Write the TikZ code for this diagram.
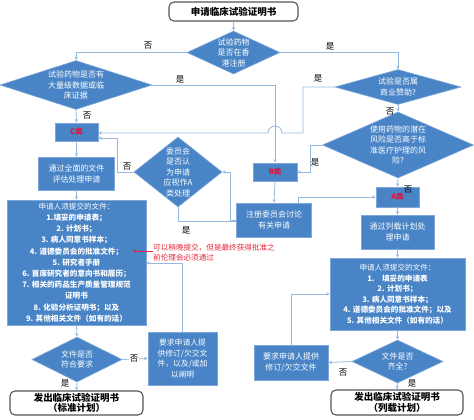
\documentclass[tikz,border=0pt]{standalone}
\usepackage{fontspec}
\setmainfont{Noto Sans CJK SC}
\usetikzlibrary{shapes.geometric,arrows.meta,backgrounds}
\definecolor{boxblue}{RGB}{72,132,198}
\definecolor{boxedge}{RGB}{125,168,216}
\definecolor{linec}{RGB}{150,185,225}
\definecolor{catred}{RGB}{225,20,60}
\definecolor{termedge}{RGB}{85,85,85}
\definecolor{notered}{RGB}{230,40,60}
\begin{document}
\begin{tikzpicture}[x=1pt,y=-1pt,
 bx/.style={rectangle, fill=boxblue, draw=boxedge, line width=0.6pt, text=white, align=center, font=\fontsize{8}{11}\selectfont, inner sep=0pt},
 dia/.style={diamond, fill=boxblue, draw=boxedge, line width=0.6pt, inner sep=0pt},
 dtxt/.style={text=white, align=center, font=\fontsize{8}{10.5}\selectfont, inner sep=0pt},
 term/.style={rectangle, rounded corners=5pt, fill=white, draw=termedge, line width=1.1pt, align=center, font=\fontsize{9.5}{11}\selectfont\bfseries, inner sep=0pt},
 cat/.style={bx, text=catred, font=\fontsize{7.5}{9}\selectfont\bfseries},
 conn/.style={draw=linec, line width=0.8pt, -{Stealth[length=3.5pt,width=3.2pt]}},
 lbl/.style={font=\fontsize{8.5}{9}\selectfont, text=black, inner sep=0.5pt},
]
\useasboundingbox (0,0) rectangle (474,420);

% ---------- nodes ----------
\node[term, minimum width=129pt, minimum height=19pt] (top) at (233.5,11.5) {申请临床试验证明书};

\node[dia, minimum width=93pt, minimum height=43pt] (d1) at (233.5,52.5) {};
\node[dtxt] (d1t) at (d1) {试验药物\\是否在香\\港注册};

\node[dia, minimum width=152pt, minimum height=49pt] (d2) at (76,85) {};
\node[dtxt] (d2t) at (d2) {试验药物是否有\\大量级数据或临\\床证据};

\node[dia, minimum width=126pt, minimum height=35pt] (d3) at (398,87) {};
\node[dtxt] (d3t) at (d3) {试验是否属\\商业赞助?};

\node[dia, minimum width=151pt, minimum height=66pt] (d4) at (398,145) {};
\node[dtxt] (d4t) at (d4) {使用药物的潜在\\风险是否高于标\\准医疗护理的风\\险?};

\node[dia, minimum width=88pt, minimum height=70pt] (d5) at (178,172) {};
\node[dtxt] (d5t) at (d5) {委员会\\是否认\\为申请\\应视作A\\类处理};

\node[cat, minimum width=43pt, minimum height=18pt] (Cc) at (76.5,132) {C类};
\node[cat, minimum width=44pt, minimum height=18pt] (Bc) at (275,172) {B类};
\node[cat, minimum width=43pt, minimum height=20pt] (Ac) at (397.5,197) {A类};

\node[bx, minimum width=76pt, minimum height=33pt] (eval) at (76.5,173.5) {通过全面的文件\\评估处理申请};
\node[bx, minimum width=75pt, minimum height=34pt] (reg) at (274,220) {注册委员会讨论\\有关申请};
\node[bx, minimum width=73pt, minimum height=34pt] (list) at (397.5,232) {通过列载计划处\\理申请};

\node[bx, minimum width=139pt, minimum height=125pt, font=\fontsize{7.6}{11.2}\selectfont] (docsL) at (76.5,262.5) {申请人须提交的文件：\\
\bfseries 1.填妥的申请表；\\
\bfseries 2. 计划书；\\
\bfseries 3. 病人同意书样本；\\
\bfseries 4. 道德委员会的批准文件；\\
\bfseries 5. 研究者手册\\
\bfseries 6. 首席研究者的意向书和履历；\\
\bfseries 7. 相关的药品生产质量管理规范\\
\bfseries 证明书\\
\bfseries 8. 化验分析证明书；以及\\
\bfseries 9. 其他相关文件（如有的话）};

\node[bx, minimum width=135pt, minimum height=72pt, font=\fontsize{7.6}{10.5}\selectfont] (docsR) at (397.5,294) {申请人须提交的文件：\\
\bfseries 1.\quad 填妥的申请表\\
\bfseries 2. 计划书；\\
\bfseries 3. 病人同意书样本；\\
\bfseries 4. 道德委员会的批准文件；以及\\
\bfseries 5. 其他相关文件（如有的话）};

\node[dia, minimum width=90pt, minimum height=45pt] (d6) at (77,359.5) {};
\node[dtxt] (d6t) at (d6) {文件是否\\符合要求};

\node[dia, minimum width=91pt, minimum height=43pt] (d7) at (397.5,361.5) {};
\node[dtxt] (d7t) at (d7) {文件是否\\齐全?};

\node[bx, minimum width=69pt, minimum height=53pt, font=\fontsize{7.8}{10.5}\selectfont] (reqL) at (182.5,358.5) {要求申请人提\\供修订/欠交文\\件，以及/或加\\以阐明};
\node[bx, minimum width=74pt, minimum height=35pt] (reqR) at (291,362.5) {要求申请人提供\\修订/欠交文件};

\node[term, minimum width=133pt, minimum height=24pt, font=\fontsize{9.5}{10.5}\selectfont\bfseries] (endL) at (76.5,403) {发出临床试验证明书\\（标准计划）};
\node[term, minimum width=132pt, minimum height=25pt, font=\fontsize{9.5}{10.5}\selectfont\bfseries] (endR) at (397,402.5) {发出临床试验证明书\\（列载计划）};

% red note
\node[text=notered, align=left, anchor=west, font=\fontsize{7.6}{10}\selectfont, inner sep=0pt] (note) at (153,253) {可以稍晚提交，但是最终获得批准之\\前伦理会必须通过};
\coordinate (noteTip) at (133,251);

% ---------- background: white and hidden connector ----------
\begin{pgfonlayer}{background}
\fill[white] (0,0) rectangle (474,420);
\draw[conn] (d5.south) -- (178,221) -- (298,221) -- (298,197) -- (Ac.west);
\end{pgfonlayer}

% ---------- connectors ----------
\draw[conn] (top.south) -- (d1.north);
\draw[conn] (d1.west) -| (d2.north);
\draw[conn] (d1.east) -| (d3.north);
\draw[conn] (d2.east) -| (Bc.north);
\draw[conn] (d2.south) -- (Cc.north);
\draw[conn] (d3.west) -- (303,87) -- (303,133) -- (282,133)
   arc[start angle=0, end angle=180, radius=7pt] -- (Cc.east |- 0,133);
\draw[conn] (d3.south) -- (d4.north);
\draw[conn] (d4.west) -- (310,145) -- (310,172) -- (Bc.east);
\draw[conn] (d4.south) -- (Ac.north);
\draw[conn] (Cc.south) -- (eval.north);
\draw[conn] (eval.south) -- (docsL.north);
\draw[conn] (Bc.south) -- (reg.north);
\draw[conn] (reg.west) -- (230,220) -- (230,172) -- (d5.east);
\draw[conn] (d5.west) -- (117,172) -- (117,138) -- (Cc.east |- 0,138);
\draw[conn] (Ac.south) -- (list.north);
\draw[conn] (list.south) -- (docsR.north);
\draw[conn] (docsL.south) -- (d6.north);
\draw[conn] (d6.east) -- (reqL.west);
\draw[conn] (reqL.north) -- (182.5,263) -- (docsL.east |- 0,263);
\draw[conn] (d6.south) -- (endL.north);
\draw[conn] (docsR.south) -- (d7.north);
\draw[conn] (d7.west) -- (reqR.east);
\draw[conn] (reqR.north) -- (291,294) -- (docsR.west);
\draw[conn] (d7.south) -- (endR.north);
\draw[draw=notered, line width=0.7pt, -{Stealth[length=3.5pt,width=3.5pt]}] (note.west) ++(0,-2) -- (noteTip);

% ---------- labels ----------
\node[lbl] (l1) at (148,46) {否};
\node[lbl] (l2) at (330,46) {是};
\node[lbl] (l3) at (180,79) {是};
\node[lbl] (l4) at (87,116) {否};
\node[lbl] (l5) at (318,78) {是};
\node[lbl] (l6) at (390,112) {否};
\node[lbl] (l7) at (315,162) {是};
\node[lbl] (l8) at (408,190) {否};
\node[lbl] (l9) at (127,167) {否};
\node[lbl] (l10) at (186,230) {是};
\node[lbl, fill=white] (l11) at (134,359) {否};
\node[lbl] (l12) at (65,383) {是};
\node[lbl] (l13) at (343,373) {否};
\node[lbl] (l14) at (412,383) {是};
\end{tikzpicture}
\end{document}
